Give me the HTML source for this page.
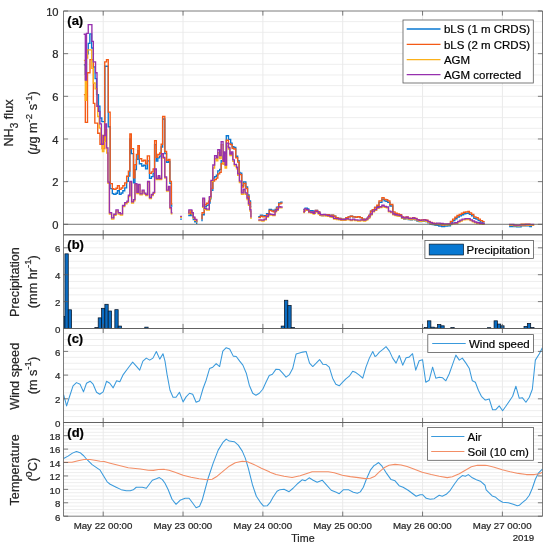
<!DOCTYPE html>
<html lang="en">
<head>
<meta charset="utf-8">
<title>NH3 flux, precipitation, wind speed and temperature time series</title>
<style>
html,body{margin:0;padding:0;background:#fff;}
body{width:550px;height:548px;overflow:hidden;}
svg{display:block;font-family:"Liberation Sans",Arial,Helvetica,sans-serif;}
svg text{white-space:pre;stroke:#262626;stroke-width:0.22px;paint-order:stroke fill;}
</style>
</head>
<body>
<svg width="550" height="548" viewBox="0 0 550 548">
<rect x="0" y="0" width="550" height="548" fill="#ffffff"/>
<defs>
<clipPath id="clipa"><rect x="63.5" y="11" width="479" height="223.8"/></clipPath>
<clipPath id="clipb"><rect x="63.5" y="234.8" width="479" height="93.7"/></clipPath>
<clipPath id="clipc"><rect x="63.5" y="328.5" width="479" height="94"/></clipPath>
<clipPath id="clipd"><rect x="63.5" y="422.5" width="479" height="93.7"/></clipPath>
</defs>
<path d="M63.5 224.3H542.5M63.5 213.64H542.5M63.5 202.97H542.5M63.5 192.31H542.5M63.5 181.64H542.5M63.5 170.98H542.5M63.5 160.31H542.5M63.5 149.65H542.5M63.5 138.98H542.5M63.5 128.32H542.5M63.5 117.65H542.5M63.5 106.99H542.5M63.5 96.32H542.5M63.5 85.66H542.5M63.5 74.99H542.5M63.5 64.33H542.5M63.5 53.66H542.5M63.5 43H542.5M63.5 32.33H542.5M63.5 21.67H542.5" stroke="#eeeeee" stroke-width="1" fill="none"/>
<path d="M103.2 11V234.8M183.04 11V234.8M262.88 11V234.8M342.72 11V234.8M422.56 11V234.8M502.4 11V234.8" stroke="#eaeaea" stroke-width="1" fill="none"/>
<path d="M63.5 321.77H542.5M63.5 315.05H542.5M63.5 308.32H542.5M63.5 301.6H542.5M63.5 294.88H542.5M63.5 288.15H542.5M63.5 281.43H542.5M63.5 274.7H542.5M63.5 267.98H542.5M63.5 261.25H542.5M63.5 254.53H542.5M63.5 247.8H542.5M63.5 241.07H542.5" stroke="#eeeeee" stroke-width="1" fill="none"/>
<path d="M103.2 234.8V328.5M183.04 234.8V328.5M262.88 234.8V328.5M342.72 234.8V328.5M422.56 234.8V328.5M502.4 234.8V328.5" stroke="#eaeaea" stroke-width="1" fill="none"/>
<path d="M63.5 416.57H542.5M63.5 410.65H542.5M63.5 404.73H542.5M63.5 398.8H542.5M63.5 392.88H542.5M63.5 386.95H542.5M63.5 381.02H542.5M63.5 375.1H542.5M63.5 369.18H542.5M63.5 363.25H542.5M63.5 357.32H542.5M63.5 351.4H542.5M63.5 345.48H542.5M63.5 339.55H542.5M63.5 333.62H542.5" stroke="#eeeeee" stroke-width="1" fill="none"/>
<path d="M103.2 328.5V422.5M183.04 328.5V422.5M262.88 328.5V422.5M342.72 328.5V422.5M422.56 328.5V422.5M502.4 328.5V422.5" stroke="#eaeaea" stroke-width="1" fill="none"/>
<path d="M63.5 512.85H542.5M63.5 509.49H542.5M63.5 506.14H542.5M63.5 502.78H542.5M63.5 499.43H542.5M63.5 496.07H542.5M63.5 492.72H542.5M63.5 489.36H542.5M63.5 486.01H542.5M63.5 482.65H542.5M63.5 479.3H542.5M63.5 475.94H542.5M63.5 472.59H542.5M63.5 469.23H542.5M63.5 465.88H542.5M63.5 462.52H542.5M63.5 459.17H542.5M63.5 455.81H542.5M63.5 452.46H542.5M63.5 449.1H542.5M63.5 445.75H542.5M63.5 442.39H542.5M63.5 439.04H542.5M63.5 435.68H542.5M63.5 432.33H542.5M63.5 428.97H542.5M63.5 425.62H542.5" stroke="#eeeeee" stroke-width="1" fill="none"/>
<path d="M103.2 422.5V516.2M183.04 422.5V516.2M262.88 422.5V516.2M342.72 422.5V516.2M422.56 422.5V516.2M502.4 422.5V516.2" stroke="#eaeaea" stroke-width="1" fill="none"/>
<g clip-path="url(#clipa)" fill="none" stroke-width="1.35" stroke-linejoin="miter">
<path d="M83.87 64.74H85.33V74.23H86.5V53.8H88.25V43.43H89.85V33.94H91.61V47.96H93.36V66.93H95.11V78.61H96.57V94.6H98.47V106.28H99.93V117.96H101.82V121.61H104.89V66.2H108.25V126.72H110.15V188.58H112.34V193.69H113.8V194.42H115.99V193.25H117.45V190.77H119.34V194.42H121.09V192.96H122.85V190.77H124.74V187.85H126.64V181.28H128.39V176.17H129.85V139.01H131.31V153.61H133.5V182.74H134.96V169.6H136.42V159.38H137.88V150.69H139.34V163.76H140V163.76H141.75V165.95H143.65V165.22H145.55V168.87H147.3V160.84H149.49V178.36H151.39V176.62H153.14V173.35H154.6V144.66H156.35V161.1H157.81V157.89H159.71V156.05H161.17V147H162.63V118.97H164.82V153.57H166.57V162.22H168.47V161.49H169.93V183.39H171.39V206.01H172.41M180.15 219.15H181.9M188.18 215.5H190.36V212.58H191.82V215.5H193.28V219.45H194.74V221.78H196.64V223.24H197.37M201.31 220.61H202.04V214.77H204.23V206.74H206.42V205.28H208.61V203.09H210.07V198.72H210.95V190.39H212.85V178.09H214.6V176.64H216.35V175.18H217.81V170.8H219.71V169.34H221.17V160.58H223.07V156.2H224.82V153.28H226.28V135.72H228.47V139.37H230.66V143.1H232.12V146.75H233.87V147.48H235.77V156.24H237.66V160.62H239.12V172.3H240V173.1H241.75V185.51H243.65V181.86H245.84V186.97H247.59V195H249.05V200.84H250.51V206.68H251.39M258.25 216.66H260.44V215.2H262.63V215.93H264.53V215.64H266.57V213.74H269.2V209.36H271.39V210.09H273.28V210.82H275.04V209.36H276.5V207.18H278.69V202.8H280.88V202.07H282.63M303.21 209.59H305.11V208.14H307.3V208.86H308.76V210.76H313.14V212.85H315.33V210.36H317.52V211.82H319.71V214.74H321.9V215.47H324.09V214.74H327.01V214.74H329.2V215.47H331.39V215.18H333.58V216.2H335.77V217.66H337.96V218.39H340.88V219.12H343.8V219.12H345.99V217.66H348.18V216.93H350.36V216.2H352.55V216.93H355.47V217.23H357.66V216.64H359.85V217.23H360V217.66H362.19V219.12H364.38V219.85H366.57V218.39H368.76V215.47H370.51V211.09H372.41V209.64H374.6V207.45H376.79V206.76H378.98V202.38H381.9V199.16H384.09V200.92H385.99V201.21H387.74V202.38H389.93V206.03H392.85V213.32H395.04V214.78H397.23V215.51H399.42V216.24H401.61V218.43H403.8V219.16H405.99V218.43H408.18V219.6H410.36V219.89H412.55V219.16H414.74V219.89H416.93V221.06H419.12V221.65H421.31V221.35H423.5V221.06H425.69V221.65H427.88V222.81H430.07V223.98H432.26V224.57H434.45V225H435.84V225.44H438.76V226.03H441.68V226.46H444.6V226.03H447.52V225.73H450.44V222.81H452.63V220.62H454.82V218.73H457.01V216.97H459.2V215.81H461.39V214.78H463.58V213.76H465.77V213.32H467.96V213.03H469.42V214.35H471.61V215.81H473.8V218.43H475.99V219.16H478.18V220.62H480.36V222.08H482.55V223.11H484.74M509.12 226.61H516.72V226.9H521.09V225.73H527.66V225.73H529.85V226.46H532.04" stroke="#0878D2"/>
<path d="M83.87 94.6H85.33V122.34H87.52V72.77H90V59.64H93.36V103.36H94.82V123.07H97.74V133.28H99.93V144.23H102.12V148.61H104.74V61.82H106.5V59.64H108.25V112.12H110.15V183.58H112.34V188.69H113.8V189.42H115.99V188.25H117.45V185.77H119.34V189.42H121.09V187.96H122.85V185.77H124.74V182.85H126.64V176.28H128.39V171.17H129.85V134.01H131.31V148.61H133.5V177.74H134.96V164.6H136.42V154.38H137.88V145.69H139.34V158.76H140V158.76H141.75V160.95H143.65V160.22H145.55V163.87H147.3V155.84H149.49V173.36H151.39V171.9H153.14V168.98H154.6V140.58H156.35V157.37H157.81V154.45H159.71V152.99H161.17V144.23H162.63V116.5H164.82V151.53H166.57V160.22H168.47V159.49H169.93V181.39H171.39V204.01H172.41M180.15 217.15H181.9M188.18 213.5H190.36V210.58H191.82V213.5H193.28V217.45H194.74V219.78H196.64V221.24H197.37M201.31 218.61H202.04V212.77H204.23V204.74H206.42V203.28H208.61V201.09H210.07V196.72H210.95V188.39H212.85V181.09H214.6V179.64H216.35V178.18H217.81V173.8H219.71V172.34H221.17V163.58H223.07V159.2H224.82V156.28H226.28V140.22H228.47V143.87H230.66V144.6H232.12V148.25H233.87V148.98H235.77V157.74H237.66V162.12H239.12V173.8H240V174.6H241.75V187.01H243.65V183.36H245.84V188.47H247.59V196.5H249.05V202.34H250.51V208.18H251.39M258.25 217.66H260.44V216.2H262.63V216.93H264.53V216.64H266.57V214.74H269.2V210.36H271.39V211.09H273.28V211.82H275.04V210.36H276.5V208.18H278.69V203.8H280.88V203.07H282.63M303.21 211.09H305.11V209.64H307.3V210.36H308.76V212.26H313.14V212.85H315.33V210.36H317.52V211.82H319.71V214.74H321.9V215.47H324.09V214.74H327.01V214.74H329.2V215.47H331.39V215.18H333.58V216.2H335.77V217.66H337.96V218.39H340.88V219.12H343.8V219.12H345.99V217.66H348.18V216.93H350.36V216.2H352.55V216.93H355.47V217.23H357.66V216.64H359.85V217.23H360V217.66H362.19V219.12H364.38V219.85H366.57V218.39H368.76V215.47H370.51V211.09H372.41V209.64H374.6V207.45H376.79V205.26H378.98V200.88H381.9V197.66H384.09V199.42H385.99V199.71H387.74V200.88H389.93V204.53H392.85V211.82H395.04V213.28H397.23V214.01H399.42V214.74H401.61V216.93H403.8V217.66H405.99V216.93H408.18V218.1H410.36V218.39H412.55V217.66H414.74V218.39H416.93V219.56H419.12V220.15H421.31V219.85H423.5V219.56H425.69V220.15H427.88V221.31H430.07V222.48H432.26V223.07H434.45V223.5H435.84V223.94H438.76V224.53H441.68V224.96H444.6V224.53H447.52V224.23H450.44V221.31H452.63V219.12H454.82V217.23H457.01V215.47H459.2V214.31H461.39V213.28H463.58V212.26H465.77V211.82H467.96V211.53H469.42V212.85H471.61V214.31H473.8V216.93H475.99V217.66H478.18V219.12H480.36V220.58H482.55V221.61H484.74M509.12 225.11H516.72V225.4H521.09V224.23H527.66V224.23H529.85V224.96H532.04" stroke="#F45A16"/>
<path d="M83.87 60.36H85.33V100.44H86.5V58.18H87.66V49.85H91.75V68.39H93.36V82.99H95.11V88.76H97.01V106.28H97.74V116.5H99.2V128.18H100.95V135.47H102.41V151.53H103.87V141.31H105.33V129.64H106.79V152.99H107.96V183.32H109.42V213.97H111.61V219.08H113.8V215.43H115.99V211.05H118.18V213.97H120.36V215H122.55V206.67H124.74V203.75H126.93V202.29H128.39V196.46H129.85V182.59H131.61V203.02H133.5V200.84H134.96V184.78H136.86V193.54H138.32V185.51H140V194.8H142.19V191.15H144.09V194.07H145.84V195.53H147.59V182.39H149.49V198.45H151.39V195.53H153.14V193.34H154.6V169.98H156.35V179.47H158.25V176.55H159.71V179.47H161.61V154.65H163.36V158.3H164.82V178.01H166.57V191.15H168.47V187.5H169.93V208.66H171.39V213.77H172.41M180.15 217.42H181.9M188.18 213.77H188.91V210.85H191.82V213.77H193.28V218.15H194.74V220.34H196.64V221.8H197.37M202.04 207.2H202.77V199.18H204.53V209.39H206.42V210.12H209.34V197.72H210.95V181.36H212.85V168.04H214.6V158.55H216.35V160.74H217.81V152.71H219.71V158.55H221.17V144.68H223.07V164.39H224.09V154.9H225.11V168.04H226.57V146.14H228.47V149.02H229.93V155.59H231.39V153.4H232.85V161.43H234.31V165.81H236.5V168.73H237.66V175.3H239.42V182.59H241.46V194.35H243.21V190.7H245.11V194.35H247.01V199.46H248.47V205.3H249.93V211.14H250.95V218.43H251.68M258.25 220.65H261.9V220.95H264.09V219.92H266.28V217H268.47V214.81H270.66V215.11H272.85V215.54H275.04V211.89H276.5V210.44H278.25V207.52H280.15V207.81H282.63M303.21 212.62H304.38V209.71H306.57V210.44H308.76V212.62H310.95V213.06H313.14V214.08H314.6V211.89H316.79V212.19H318.25V214.08H320.44V215.54H323.36V215.11H325.55V215.98H327.74V216.27H329.93V217H332.12V217.44H333.58V219.19H336.5V219.49H338.69V219.92H340.88V220.36H343.8V220.36H345.99V219.49H348.18V219.92H350.36V220.65H352.55V219.92H354.74V220.65H357.66V220.95H360.58V220.65H363.5V220.95H365.69V219.92H367.88V217.73H370.07V214.81H372.26V211.89H374.45V210.44H376.64V208.25H378.98V207.52H381.9V206.06H384.09V207.22H386.28V207.81H388.47V211.89H390.66V212.62H392.85V214.81H395.04V215.54H397.23V215.98H399.42V216.27H401.61V218.03H403.8V218.9H405.99V218.03H408.18V219.19H410.36V219.49H412.55V218.76H414.74V219.49H416.93V220.65H419.12V221.24H421.31V220.95H423.5V220.65H425.69V221.24H427.88V222.41H430.07V223.57H432.26V224.16H434.45V224.6H436.57V223.87H440.22V224.3H443.14V224.6H446.06V224.74H448.98V224.6H451.9V223.87H454.82V223.57H457.74V222.11H459.93V220.95H462.12V219.92H465.04V219.49H467.96V219.49H470.15V220.65H472.34V221.82H474.53V222.84H476.72V223.57H479.64V224.01H482.55V224.3H484.74M509.12 225.33H513.8V225.91H519.64V225.62H525.47V225.33H534.23" stroke="#FBB11A"/>
<path d="M83.65 34.23H85.33V80.07H86.5V33.36H88.25V24.6H91.9V41.39H93.36V61.82H95.55V72.77H97.01V106.28H98.47V111.39H99.93V123.8H101.39V144.23H103.28V135.47H105.04V123.8H106.5V147.88H107.96V182.12H109.42V212.77H111.61V217.88H113.8V214.23H115.99V209.85H118.18V212.77H120.36V213.8H122.55V205.47H124.74V202.55H126.93V201.09H128.39V195.26H129.85V181.39H131.61V201.82H133.5V199.64H134.96V183.58H136.86V192.34H138.32V184.31H140V193.8H142.19V190.15H144.09V193.07H145.84V194.53H147.59V181.39H149.49V197.45H151.39V194.53H153.14V192.34H154.6V168.98H156.35V178.47H158.25V175.55H159.71V178.47H161.61V153.65H163.36V157.3H164.82V177.01H166.57V190.15H168.47V186.5H169.93V207.66H171.39V212.77H172.41M180.15 216.42H181.9M188.18 212.77H188.91V209.85H191.82V212.77H193.28V217.15H194.74V219.34H196.64V220.8H197.37M202.04 206.2H202.77V198.18H204.53V208.39H206.42V209.12H209.34V196.72H210.95V180.36H212.85V165.04H214.6V155.55H216.35V157.74H217.81V149.71H219.71V155.55H221.17V141.68H223.07V161.39H224.09V151.9H225.11V165.04H226.57V143.14H228.47V147.52H229.93V154.09H231.39V151.9H232.85V159.93H234.31V164.31H236.5V167.23H237.66V173.8H239.42V181.09H241.46V192.85H243.21V189.2H245.11V192.85H247.01V197.96H248.47V203.8H249.93V209.64H250.95V216.93H251.68M258.25 219.85H261.9V220.15H264.09V219.12H266.28V216.2H268.47V214.01H270.66V214.31H272.85V214.74H275.04V211.09H276.5V209.64H278.25V206.72H280.15V207.01H282.63M303.21 211.82H304.38V208.91H306.57V209.64H308.76V211.82H310.95V212.26H313.14V213.28H314.6V211.09H316.79V211.39H318.25V213.28H320.44V214.74H323.36V214.31H325.55V215.18H327.74V215.47H329.93V216.2H332.12V216.64H333.58V218.39H336.5V218.69H338.69V219.12H340.88V219.56H343.8V219.56H345.99V218.69H348.18V219.12H350.36V219.85H352.55V219.12H354.74V219.85H357.66V220.15H360.58V219.85H363.5V220.15H365.69V219.12H367.88V216.93H370.07V214.01H372.26V211.09H374.45V209.64H376.64V207.45H378.98V206.72H381.9V205.26H384.09V206.42H386.28V207.01H388.47V211.09H390.66V211.82H392.85V214.01H395.04V214.74H397.23V215.18H399.42V215.47H401.61V217.23H403.8V218.1H405.99V217.23H408.18V218.39H410.36V218.69H412.55V217.96H414.74V218.69H416.93V219.85H419.12V220.44H421.31V220.15H423.5V219.85H425.69V220.44H427.88V221.61H430.07V222.77H432.26V223.36H434.45V223.8H436.57V223.07H440.22V223.5H443.14V223.8H446.06V223.94H448.98V223.8H451.9V223.07H454.82V222.77H457.74V221.31H459.93V220.15H462.12V219.12H465.04V218.69H467.96V218.69H470.15V219.85H472.34V221.02H474.53V222.04H476.72V222.77H479.64V223.21H482.55V223.5H484.74M509.12 224.53H513.8V225.11H519.64V224.82H525.47V224.53H534.23" stroke="#9630AE"/>
</g>
<g clip-path="url(#clipb)" fill="#0A6CC2" stroke="#0a1626" stroke-width="0.75">
<rect x="61.62" y="316.53" width="3.33" height="11.97"/>
<rect x="64.94" y="253.85" width="3.33" height="74.65"/>
<rect x="68.27" y="309.8" width="3.33" height="18.7"/>
<rect x="94.88" y="327.56" width="3.33" height="0.94"/>
<rect x="98.21" y="317.87" width="3.33" height="10.63"/>
<rect x="101.54" y="308.32" width="3.33" height="20.18"/>
<rect x="104.86" y="304.29" width="3.33" height="24.21"/>
<rect x="108.19" y="311.01" width="3.33" height="17.49"/>
<rect x="114.84" y="309.67" width="3.33" height="18.83"/>
<rect x="118.17" y="326.08" width="3.33" height="2.42"/>
<rect x="144.78" y="327.15" width="3.33" height="1.35"/>
<rect x="281.18" y="326.08" width="3.33" height="2.42"/>
<rect x="284.5" y="300.25" width="3.33" height="28.25"/>
<rect x="287.83" y="305.37" width="3.33" height="23.13"/>
<rect x="291.16" y="327.56" width="3.33" height="0.94"/>
<rect x="424.22" y="327.56" width="3.33" height="0.94"/>
<rect x="427.55" y="320.83" width="3.33" height="7.67"/>
<rect x="430.88" y="327.15" width="3.33" height="1.35"/>
<rect x="434.2" y="327.83" width="3.33" height="0.67"/>
<rect x="437.53" y="324.46" width="3.33" height="4.04"/>
<rect x="440.86" y="325.81" width="3.33" height="2.69"/>
<rect x="450.84" y="327.56" width="3.33" height="0.94"/>
<rect x="487.43" y="327.69" width="3.33" height="0.81"/>
<rect x="494.08" y="320.83" width="3.33" height="7.67"/>
<rect x="497.41" y="324.06" width="3.33" height="4.44"/>
<rect x="500.74" y="325.81" width="3.33" height="2.69"/>
<rect x="524.02" y="326.48" width="3.33" height="2.02"/>
<rect x="527.35" y="323.52" width="3.33" height="4.98"/>
<rect x="530.68" y="327.56" width="3.33" height="0.94"/>
</g>
<path clip-path="url(#clipc)" d="M63.61 394.66L66.62 405.91L69.64 396.27L73.05 385.83L76.46 382.62L80.07 384.23L83.49 391.85L86.5 383.22L90.11 381.22L93.12 384.23L96.53 392.26L99.74 394.26L103.16 391.85L106.57 381.22L109.78 383.22L113.19 387.84L116.61 380.81L119.82 381.82L123.23 374.59L129.25 366.56L132.66 362.15L136.28 366.16L139.69 370.18L142.9 361.14L146.31 358.13L149.73 360.14L152.94 358.13L156.35 351.51L159.76 359.14L162.97 353.72L165 361.14L167.01 374.19L170.02 390.25L173.03 397.27L176.04 397.27L179.45 392.26L183.07 401.89L186.08 396.87L189.49 393.26L192.7 394.26L196.11 402.29L199.53 400.69L203.14 388.24L206.15 380.21L209.56 368.57L212.77 367.16L216.19 363.55L219.6 366.56L222.81 351.11L226.22 347.69L229.64 349.1L233.25 356.12L236.26 356.53L239.67 361.14L242.88 365.16L246.3 373.19L249.31 385.23L252.72 393.26L255.93 395.27L259.34 393.26L262.76 389.24L265.97 382.22L269.38 375.19L270 375.19L272.41 374.19L276.02 369.17L279.43 369.57L282.65 373.19L286.06 377.2L289.47 374.59L292.68 368.57L296.09 354.12L299.51 353.11L302.72 352.11L306.13 351.51L309.54 363.15L312.76 366.56L316.17 363.15L319.58 359.54L322.79 364.15L326.2 364.55L329.22 367.16L332.63 378.2L335.84 384.23L339.25 385.83L342.66 382.22L345.88 378.81L349.29 376.2L352.7 371.18L355.91 372.58L359.32 375.19L362.74 378.2L365.95 367.16L369.36 358.13L372.77 351.51L375 356.53L376.41 355.72L379.42 352.11L382.63 349.7L386.04 346.69L389.45 351.11L392.66 358.13L396.08 363.15L399.29 355.52L402.7 365.16L406.11 357.73L409.12 357.13L412.54 353.72L415.75 370.18L419.16 360.74L422.57 359.74L425.78 382.22L429.2 380.21L432.61 367.16L435.82 378.2L439.23 377.2L442.65 377.8L445.86 380.81L449.27 373.79L452.68 364.15L455.89 355.12L459.31 360.14L462.32 358.13L465.93 363.15L469.34 368.57L472.35 380.81L475.36 382.22L478.38 390.25L481.39 396.27L485 399.88L485.77 399.88L489.18 398.88L492.59 409.72L495.8 409.72L499.22 405.91L502.63 410.72L505.84 406.31L509.25 401.29L512.66 396.27L515.88 386.23L519.29 398.28L522.3 397.68L525.91 402.29L529.32 397.27L532.34 389.24L535.35 360.14L539.36 353.72L542.37 347.69" fill="none" stroke="#3A9ADC" stroke-width="1.05" stroke-linejoin="round"/>
<path clip-path="url(#clipd)" d="M63.61 458.54L68.03 456.13L72.45 453.12L76.46 451.51L80.07 452.72L83.69 455.73L87.1 459.74L92.12 464.56L96.13 467.37L100.15 470.18L103.16 475.2L107.17 481.82L110.18 484.23L116.2 487.24L121.22 489.65L126.24 490.66L130.26 490.66L133.27 489.85L136.28 487.24L142.3 487.24L146.31 488.25L149.32 484.23L152.34 480.22L156.35 478.81L159.36 477.61L162.37 479.62L165 483.23L168.01 489.25L172.03 499.29L176.04 504.31L180.05 500.29L185.07 498.28L189.09 498.28L192.1 502.3L196.11 507.72L199.53 506.31L202.14 500.29L205.15 489.25L208.16 478.21L213.18 463.16L218.19 450.11L223.21 442.08L226.22 439.07L229.23 441.08L234.25 441.68L238.27 445.09L242.28 451.11L245.29 458.14L248.3 468.18L252.32 484.23L256.33 496.28L260.35 502.3L263.36 505.91L267.37 505.71L270 502.7L273.01 497.28L277.03 491.26L280.04 489.65L284.05 489.25L289.07 491.66L293.08 488.25L298.1 483.23L302.12 479.82L305.13 480.82L309.14 477.81L313.16 480.22L317.17 482.23L322.19 480.22L326.2 484.64L331.22 490.26L336.24 492.26L339.25 493.67L343.27 489.85L348.28 489.65L353.3 492.26L357.32 493.27L360.33 491.86L363.34 487.24L366.35 479.22L370.36 470.18L374.38 465.16L375 465.16L378.61 462.55L382.03 466.17L386.04 472.59L391.06 479.62L395.07 480.82L399.09 485.64L403.1 487.24L408.12 490.26L412.14 493.27L416.15 496.28L420.16 494.67L422.57 494.67L426.19 498.28L430.2 499.29L434.22 498.69L439.23 495.27L442.24 496.28L446.26 494.27L450.27 490.26L454.29 484.23L458.3 478.81L462.32 475.6L465.33 476.2L468.34 474.6L472.35 477.81L476.37 479.82L480.38 481.22L485 485.24L486.17 489.85L492.19 495.88L495.2 496.88L499.22 500.29L502.63 502.3L508.25 502.7L513.27 504.31L517.28 505.71L519.29 505.31L522.3 502.7L526.31 499.29L529.32 495.27L532.34 488.25L535.35 479.22L538.36 473.19L542.37 469.18" fill="none" stroke="#3A9ADC" stroke-width="1.05" stroke-linejoin="round"/>
<path clip-path="url(#clipd)" d="M63.61 462.15L72.04 462.15L78.07 460.75L84.09 459.54L90.11 459.54L96.13 460.55L100.15 461.35L104.16 461.55L110.18 463.16L120.22 465.77L128.25 467.77L140.29 468.98L148.32 470.18L153.34 470.38L158.36 469.58L164.38 469.38L165 469.58L169.01 470.18L175.04 472.19L183.07 475.2L191.09 477.21L199.12 478.81L207.15 479.82L212.17 479.22L217.19 476.2L223.21 471.19L229.23 466.17L235.26 462.76L242.28 461.15L247.3 461.75L253.32 464.16L261.35 468.18L269.38 471.79L270 472.19L276.02 474.6L284.05 476.2L292.08 477.41L300.11 475.8L306.13 473.8L312.15 471.79L320.18 471.79L328.21 471.79L334.23 472.79L342.26 475.2L350.29 476.61L358.32 477.61L365.35 478.61L370.36 478.21L374.38 476.41L375 476.2L379.01 472.19L384.03 467.77L389.05 465.16L395.07 464.36L401.09 464.96L407.12 466.57L413.14 468.78L422.17 472.19L431.2 474.6L439.23 476.2L447.26 477.61L452.28 476.81L459.31 473.8L465.33 470.18L471.35 466.77L477.37 465.36L485 465.36L487.17 465.57L494.2 467.17L502.23 469.78L510.26 471.79L518.28 473.39L526.31 474.6L534.34 474.6L539.36 473.8L542.37 472.19" fill="none" stroke="#F38E66" stroke-width="1.05" stroke-linejoin="round"/>
<path d="M63.5 11H542.5V234.8H63.5ZM103.2 11v4.6M103.2 234.8v-4.6M183.04 11v4.6M183.04 234.8v-4.6M262.88 11v4.6M262.88 234.8v-4.6M342.72 11v4.6M342.72 234.8v-4.6M422.56 11v4.6M422.56 234.8v-4.6M502.4 11v4.6M502.4 234.8v-4.6M63.5 224.3h4.6M542.5 224.3h-4.6M63.5 181.64h4.6M542.5 181.64h-4.6M63.5 138.98h4.6M542.5 138.98h-4.6M63.5 96.32h4.6M542.5 96.32h-4.6M63.5 53.66h4.6M542.5 53.66h-4.6M63.5 11h4.6M542.5 11h-4.6M63.5 234.8H542.5V328.5H63.5ZM103.2 234.8v4.6M103.2 328.5v-4.6M183.04 234.8v4.6M183.04 328.5v-4.6M262.88 234.8v4.6M262.88 328.5v-4.6M342.72 234.8v4.6M342.72 328.5v-4.6M422.56 234.8v4.6M422.56 328.5v-4.6M502.4 234.8v4.6M502.4 328.5v-4.6M63.5 328.5h4.6M542.5 328.5h-4.6M63.5 301.6h4.6M542.5 301.6h-4.6M63.5 274.7h4.6M542.5 274.7h-4.6M63.5 247.8h4.6M542.5 247.8h-4.6M63.5 328.5H542.5V422.5H63.5ZM103.2 328.5v4.6M103.2 422.5v-4.6M183.04 328.5v4.6M183.04 422.5v-4.6M262.88 328.5v4.6M262.88 422.5v-4.6M342.72 328.5v4.6M342.72 422.5v-4.6M422.56 328.5v4.6M422.56 422.5v-4.6M502.4 328.5v4.6M502.4 422.5v-4.6M63.5 422.5h4.6M542.5 422.5h-4.6M63.5 398.8h4.6M542.5 398.8h-4.6M63.5 375.1h4.6M542.5 375.1h-4.6M63.5 351.4h4.6M542.5 351.4h-4.6M63.5 422.5H542.5V516.2H63.5ZM103.2 422.5v4.6M103.2 516.2v-4.6M183.04 422.5v4.6M183.04 516.2v-4.6M262.88 422.5v4.6M262.88 516.2v-4.6M342.72 422.5v4.6M342.72 516.2v-4.6M422.56 422.5v4.6M422.56 516.2v-4.6M502.4 422.5v4.6M502.4 516.2v-4.6M63.5 516.2h4.6M542.5 516.2h-4.6M63.5 502.78h4.6M542.5 502.78h-4.6M63.5 489.36h4.6M542.5 489.36h-4.6M63.5 475.94h4.6M542.5 475.94h-4.6M63.5 462.52h4.6M542.5 462.52h-4.6M63.5 449.1h4.6M542.5 449.1h-4.6M63.5 435.68h4.6M542.5 435.68h-4.6" stroke="#5a5a5a" stroke-width="0.8" fill="none"/>
<path d="M63.5 224.3H542.5" stroke="#5a5a5a" stroke-width="0.8" fill="none"/>
<g fill="#262626" text-anchor="end">
<text x="58.6" y="229.1" font-size="11.2">0</text>
<text x="58.6" y="186.44" font-size="11.2">2</text>
<text x="58.6" y="143.78" font-size="11.2">4</text>
<text x="58.6" y="101.12" font-size="11.2">6</text>
<text x="58.6" y="58.46" font-size="11.2">8</text>
<text x="58.6" y="15.8" font-size="11.2">10</text>
<text x="60.4" y="332.8" font-size="9.7">0</text>
<text x="60.4" y="305.9" font-size="9.7">2</text>
<text x="60.4" y="279" font-size="9.7">4</text>
<text x="60.4" y="252.1" font-size="9.7">6</text>
<text x="60.4" y="426.8" font-size="9.7">0</text>
<text x="60.4" y="403.1" font-size="9.7">2</text>
<text x="60.4" y="379.4" font-size="9.7">4</text>
<text x="60.4" y="355.7" font-size="9.7">6</text>
<text x="60.4" y="520.5" font-size="9.7">6</text>
<text x="60.4" y="507.08" font-size="9.7">8</text>
<text x="60.4" y="493.66" font-size="9.7">10</text>
<text x="60.4" y="480.24" font-size="9.7">12</text>
<text x="60.4" y="466.82" font-size="9.7">14</text>
<text x="60.4" y="453.4" font-size="9.7">16</text>
<text x="60.4" y="439.98" font-size="9.7">18</text>
</g>
<g font-size="9.7" fill="#262626" text-anchor="middle">
<text x="103" y="528.8">May 22 00:00</text>
<text x="182.84" y="528.8">May 23 00:00</text>
<text x="262.68" y="528.8">May 24 00:00</text>
<text x="342.52" y="528.8">May 25 00:00</text>
<text x="422.36" y="528.8">May 26 00:00</text>
<text x="502.2" y="528.8">May 27 00:00</text>
<text x="302.9" y="542.3" font-size="10.7">Time</text>
<text x="534.2" y="541.4" text-anchor="end">2019</text>
</g>
<g font-size="13" font-weight="bold" fill="#000">
<text x="67.3" y="25">(a)</text>
<text x="67.3" y="248.8">(b)</text>
<text x="67.3" y="342.5">(c)</text>
<text x="67.3" y="436.5">(d)</text>
</g>
<text transform="translate(13.2 123) rotate(-90)" text-anchor="middle" font-size="12.7" fill="#262626">NH<tspan dy="5.2" font-size="10">3</tspan><tspan dy="-5.2"> flux</tspan></text>
<text transform="translate(37.1 123) rotate(-90)" text-anchor="middle" font-size="12.7" fill="#262626">(<tspan font-style="italic">μ</tspan>g m<tspan dy="-5.5" font-size="9.6">-2</tspan><tspan dy="5.5" font-size="12.7"> s</tspan><tspan dy="-5.5" font-size="9.6">-1</tspan><tspan dy="5.5" font-size="12.7">)</tspan></text>
<text transform="translate(19.1 282) rotate(-90)" text-anchor="middle" font-size="12.7" fill="#262626">Precipitation</text>
<text transform="translate(36.6 281.7) rotate(-90)" text-anchor="middle" font-size="12.7" fill="#262626">(mm hr<tspan dy="-5.5" font-size="9.6">-1</tspan><tspan dy="5.5" font-size="12.7">)</tspan></text>
<text transform="translate(19.1 376.3) rotate(-90)" text-anchor="middle" font-size="12.7" fill="#262626">Wind speed</text>
<text transform="translate(36.6 375.6) rotate(-90)" text-anchor="middle" font-size="12.7" fill="#262626">(m s<tspan dy="-5.5" font-size="9.6">-1</tspan><tspan dy="5.5" font-size="12.7">)</tspan></text>
<text transform="translate(19.1 469.9) rotate(-90)" text-anchor="middle" font-size="12.7" fill="#262626">Temperature</text>
<text transform="translate(36.8 469.6) rotate(-90)" text-anchor="middle" font-size="12.7" fill="#262626">(<tspan dy="-4.6" font-size="10.6">o</tspan><tspan dy="4.6">C)</tspan></text>
<rect x="403" y="20" width="130.3" height="63" fill="#fff" stroke="#5a5a5a" stroke-width="0.8"/>
<path d="M406.7 29H440.5" stroke="#0878D2" stroke-width="1.4"/>
<text x="443.9" y="33.3" font-size="11.5" fill="#000">bLS (1 m CRDS)</text>
<path d="M406.7 44.4H440.5" stroke="#F45A16" stroke-width="1.4"/>
<text x="443.9" y="48.7" font-size="11.5" fill="#000">bLS (2 m CRDS)</text>
<path d="M406.7 59.6H440.5" stroke="#FBB11A" stroke-width="1.4"/>
<text x="443.9" y="63.9" font-size="11.5" fill="#000">AGM</text>
<path d="M406.7 74.6H440.5" stroke="#9630AE" stroke-width="1.4"/>
<text x="443.9" y="78.9" font-size="11.5" fill="#000">AGM corrected</text>
<rect x="424.9" y="240.4" width="108.5" height="18.1" fill="#fff" stroke="#5a5a5a" stroke-width="0.8"/>
<rect x="429.2" y="244.1" width="34.4" height="10.9" fill="#0878D2" stroke="#0b1a2b" stroke-width="0.7"/>
<text x="466.6" y="253.7" font-size="11.5" fill="#000">Precipitation</text>
<rect x="427.8" y="334.6" width="105.6" height="17.8" fill="#fff" stroke="#5a5a5a" stroke-width="0.8"/>
<path d="M432.2 343.5H465.7" stroke="#3A9ADC" stroke-width="1.05"/>
<text x="469.0" y="347.7" font-size="11.5" fill="#000">Wind speed</text>
<rect x="427.6" y="427.5" width="105.8" height="32.8" fill="#fff" stroke="#5a5a5a" stroke-width="0.8"/>
<path d="M431.2 436.5H464.4" stroke="#3A9ADC" stroke-width="1.05"/>
<text x="467.5" y="440.6" font-size="11.5" fill="#000">Air</text>
<path d="M431.2 451.5H464.4" stroke="#F38E66" stroke-width="1.05"/>
<text x="467.5" y="455.7" font-size="11.5" fill="#000">Soil (10 cm)</text>
</svg>
</body>
</html>
